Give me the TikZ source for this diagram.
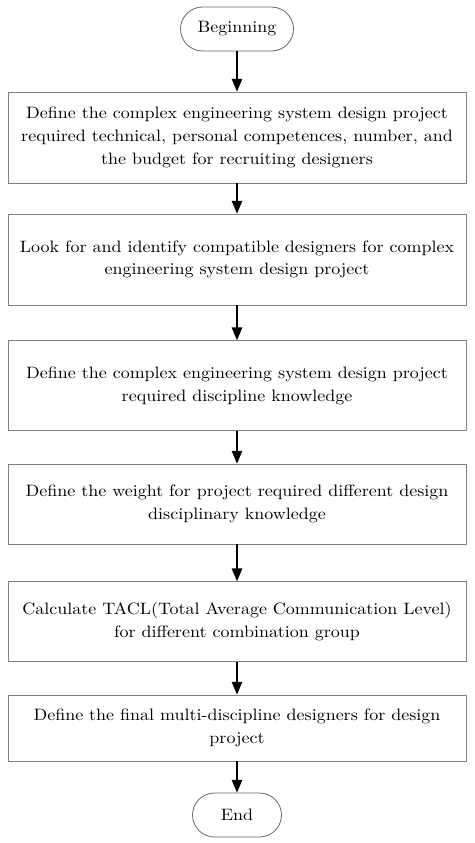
\documentclass[tikz,border=0pt]{standalone}
\usepackage{fontspec}
\setmainfont{lmroman10-regular}[Extension=.otf, FakeStretch=1.09]
\usetikzlibrary{arrows,positioning,calc}

\tikzset{
  stepbox/.style={draw=black!50, line width=0.9pt, minimum width=458pt, align=center,
    font=\fontsize{16.5}{22.7}\selectfont, inner sep=0pt},
  terminal/.style={draw=black!60, line width=0.8pt, rounded corners=22pt, minimum height=44pt,
    align=center, font=\fontsize{16.5}{18}\selectfont, inner sep=0pt},
  flow/.style={line width=2pt, -triangle 45}
}

\begin{document}
\begin{tikzpicture}[x=1pt,y=-1pt]
\useasboundingbox (0,0) rectangle (474,843);

\node[terminal, minimum width=113pt] (begin) at (237,29) {Beginning};

\node[stepbox, minimum height=91pt] (define) at (237,137.5)
  {Define the complex engineering system design project\\
   required technical, personal competences, number, and\\
   the budget for recruiting designers};
\node[stepbox, minimum height=91pt] (look) at (237,259.5)
  {Look for and identify compatible designers for complex\\
   engineering system design project};
\node[stepbox, minimum height=90pt] (knowledge) at (237,385.7)
  {Define the complex engineering system design project\\
   required discipline knowledge};
\node[stepbox, minimum height=80pt] (weight) at (237,504)
  {Define the weight for project required different design\\
   disciplinary knowledge};
\node[stepbox, minimum height=80pt] (tacl) at (237,621.7)
  {Calculate TACL(Total Average Communication Level)\\
   for different combination group};
\node[stepbox, minimum height=66pt] (final) at (237,728)
  {Define the final multi-discipline designers for design\\
   project};

\node[terminal, minimum width=89pt] (end) at (237,815) {End};

% arrows
\draw[flow] (begin) -- (define);
\draw[flow] (define) -- (look);
\draw[flow] (look) -- (knowledge);
\draw[flow] (knowledge) -- (weight);
\draw[flow] (weight) -- (tacl);
\draw[flow] (tacl) -- (final);
\draw[flow] (final) -- (end);
\end{tikzpicture}
\end{document}
